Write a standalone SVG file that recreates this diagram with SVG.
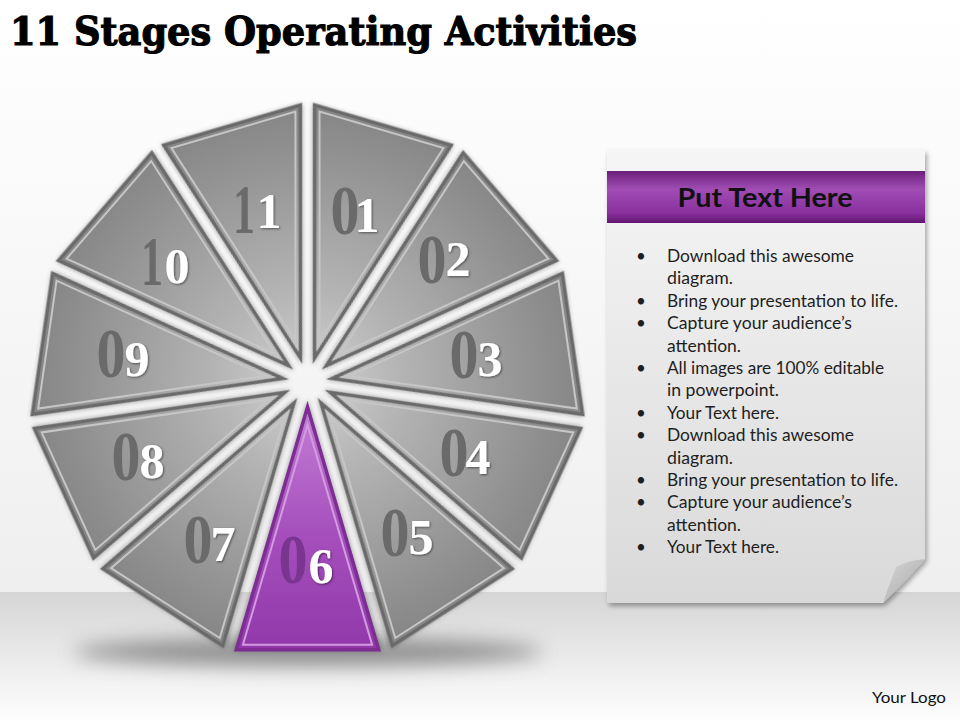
<svg xmlns="http://www.w3.org/2000/svg" width="960" height="720" viewBox="0 0 960 720">
<defs>
<linearGradient id="bgTop" x1="0" y1="0" x2="0" y2="1">
<stop offset="0" stop-color="#ffffff"/><stop offset="1" stop-color="#efefef"/>
</linearGradient>
<linearGradient id="bgFloor" x1="0" y1="0" x2="0" y2="1">
<stop offset="0" stop-color="#d5d5d5"/><stop offset="0.7" stop-color="#f2f2f2"/><stop offset="1" stop-color="#fdfdfd"/>
</linearGradient>
<radialGradient id="gGrey" gradientUnits="userSpaceOnUse" cx="0" cy="0" r="275">
<stop offset="0" stop-color="#d2d2d2"/><stop offset="0.35" stop-color="#b3b3b3"/><stop offset="1" stop-color="#858585"/>
</radialGradient>
<linearGradient id="gPurple" gradientUnits="userSpaceOnUse" x1="0" y1="-30" x2="0" y2="-268">
<stop offset="0" stop-color="#c27ed4"/><stop offset="0.5" stop-color="#a650bd"/><stop offset="1" stop-color="#9138aa"/>
</linearGradient>
<linearGradient id="gPaper" x1="0" y1="0" x2="0" y2="1">
<stop offset="0" stop-color="#f6f6f6"/><stop offset="1" stop-color="#d9d9d9"/>
</linearGradient>
<linearGradient id="gHead" x1="0" y1="0" x2="0" y2="1">
<stop offset="0" stop-color="#6a2079"/><stop offset="0.35" stop-color="#a04db4"/><stop offset="0.8" stop-color="#8a309f"/><stop offset="1" stop-color="#5f1670"/>
</linearGradient>
<linearGradient id="gFlap" x1="0" y1="0" x2="1" y2="1">
<stop offset="0" stop-color="#d8d8d8"/><stop offset="1" stop-color="#a5a5a5"/>
</linearGradient>
<filter id="sh" x="-20%" y="-20%" width="140%" height="140%">
<feDropShadow dx="0" dy="1" stdDeviation="2.5" flood-color="#000" flood-opacity="0.35"/>
</filter>
<filter id="paperSh" x="-10%" y="-10%" width="120%" height="120%">
<feDropShadow dx="2" dy="3" stdDeviation="2.5" flood-color="#000" flood-opacity="0.35"/>
</filter>
<filter id="blur" x="-30%" y="-200%" width="160%" height="500%">
<feGaussianBlur stdDeviation="10"/>
</filter>
<filter id="txtSh" x="-30%" y="-30%" width="160%" height="160%">
<feDropShadow dx="1" dy="1" stdDeviation="0.8" flood-color="#000" flood-opacity="0.5"/>
</filter>
<polygon id="triO" points="0,-25 71.25,-267.8 -71.25,-267.8"/>
<polygon id="triI" points="0,-42.75 64.6,-262.8 -64.6,-262.8"/>
</defs>
<style>
.tri{fill:url(#gGrey);stroke:#6a6a6a;stroke-width:3.5;filter:url(#sh)}
.triP{fill:url(#gPurple);stroke:#7c2e92;stroke-width:3.5;filter:url(#sh)}
.inn{fill:none;stroke:#c6c6c6;stroke-width:2}
.innP{fill:none;stroke:#d49be2;stroke-width:2}
.gd{font-family:"Liberation Serif",serif;font-weight:bold;font-size:70px;fill:#6a6a6a;text-anchor:middle}
.gdP{font-family:"Liberation Serif",serif;font-weight:bold;font-size:70px;fill:#7a3590;text-anchor:middle}
.wd{font-family:"Liberation Serif",serif;font-weight:bold;font-size:50px;fill:#ffffff;text-anchor:middle;filter:url(#txtSh)}
.bt{font-family:Lato,"Liberation Sans",sans-serif;font-size:17px;fill:#1e1e1e}
</style>

<rect x="0" y="0" width="960" height="592" fill="url(#bgTop)"/>
<rect x="0" y="592" width="960" height="128" fill="url(#bgFloor)"/>

<text x="10" y="45" font-family="DejaVu Serif" font-weight="bold" font-size="40" fill="#000" stroke="#000" stroke-width="1.2" textLength="627" lengthAdjust="spacingAndGlyphs">11 Stages Operating Activities</text>

<ellipse cx="308" cy="652" rx="235" ry="14" fill="#6e6e6e" opacity="0.75" filter="url(#blur)"/>

<g id="wheel">
<g id="stage-01">
<g transform="translate(307.5,382) rotate(16.3636)"><use href="#triO" class="tri"/><use href="#triI" class="inn"/></g>
<text class="gd" x="345" y="234" textLength="29" lengthAdjust="spacingAndGlyphs">0</text>
<text class="wd" x="367" y="232">1</text>
</g>
<g id="stage-02">
<g transform="translate(307.5,382) rotate(49.0909)"><use href="#triO" class="tri"/><use href="#triI" class="inn"/></g>
<text class="gd" x="432" y="283" textLength="29" lengthAdjust="spacingAndGlyphs">0</text>
<text class="wd" x="458" y="276">2</text>
</g>
<g id="stage-03">
<g transform="translate(307.5,382) rotate(81.8182)"><use href="#triO" class="tri"/><use href="#triI" class="inn"/></g>
<text class="gd" x="464" y="378" textLength="29" lengthAdjust="spacingAndGlyphs">0</text>
<text class="wd" x="490" y="376">3</text>
</g>
<g id="stage-04">
<g transform="translate(307.5,382) rotate(114.5455)"><use href="#triO" class="tri"/><use href="#triI" class="inn"/></g>
<text class="gd" x="454" y="476" textLength="29" lengthAdjust="spacingAndGlyphs">0</text>
<text class="wd" x="478" y="474">4</text>
</g>
<g id="stage-05">
<g transform="translate(307.5,382) rotate(147.2727)"><use href="#triO" class="tri"/><use href="#triI" class="inn"/></g>
<text class="gd" x="395" y="556" textLength="29" lengthAdjust="spacingAndGlyphs">0</text>
<text class="wd" x="421" y="554">5</text>
</g>
<g id="stage-06">
<g transform="translate(307.5,382) rotate(180)"><use href="#triO" class="triP"/><use href="#triI" class="innP"/></g>
<text class="gdP" x="293" y="583" textLength="29" lengthAdjust="spacingAndGlyphs">0</text>
<text class="wd" x="321" y="583">6</text>
</g>
<g id="stage-07">
<g transform="translate(307.5,382) rotate(212.7273)"><use href="#triO" class="tri"/><use href="#triI" class="inn"/></g>
<text class="gd" x="198" y="563" textLength="29" lengthAdjust="spacingAndGlyphs">0</text>
<text class="wd" x="223" y="561">7</text>
</g>
<g id="stage-08">
<g transform="translate(307.5,382) rotate(245.4545)"><use href="#triO" class="tri"/><use href="#triI" class="inn"/></g>
<text class="gd" x="126" y="480" textLength="29" lengthAdjust="spacingAndGlyphs">0</text>
<text class="wd" x="152" y="478">8</text>
</g>
<g id="stage-09">
<g transform="translate(307.5,382) rotate(278.1818)"><use href="#triO" class="tri"/><use href="#triI" class="inn"/></g>
<text class="gd" x="111" y="377" textLength="29" lengthAdjust="spacingAndGlyphs">0</text>
<text class="wd" x="137" y="376">9</text>
</g>
<g id="stage-10">
<g transform="translate(307.5,382) rotate(310.9091)"><use href="#triO" class="tri"/><use href="#triI" class="inn"/></g>
<text class="gd" x="152" y="285" textLength="22" lengthAdjust="spacingAndGlyphs">1</text>
<text class="wd" x="177" y="283">0</text>
</g>
<g id="stage-11">
<g transform="translate(307.5,382) rotate(343.6364)"><use href="#triO" class="tri"/><use href="#triI" class="inn"/></g>
<text class="gd" x="244" y="233" textLength="22" lengthAdjust="spacingAndGlyphs">1</text>
<text class="wd" x="269" y="228">1</text>
</g>
</g>

<g id="connectors"></g>

<g id="text-panel">
<path d="M607,150 H925 V559 Q905,582 883,603 H607 Z" fill="url(#gPaper)" filter="url(#paperSh)"/>
<path d="M925,559 Q906,561 896,567 Q889,585 883,603 Q906,582 925,559 Z" fill="url(#gFlap)"/>
<rect x="607" y="171" width="318" height="52" fill="url(#gHead)"/>
<text x="765" y="207" font-family="Lato,'Liberation Sans',sans-serif" font-weight="bold" font-size="26" fill="#111" text-anchor="middle" textLength="175" lengthAdjust="spacingAndGlyphs">Put Text Here</text>
<g class="bt">
<text x="636" y="262">•</text><text x="667" y="262" textLength="187" lengthAdjust="spacingAndGlyphs">Download this awesome</text>
<text x="667" y="284.4" textLength="66" lengthAdjust="spacingAndGlyphs">diagram.</text>
<text x="636" y="306.8">•</text><text x="667" y="306.8" textLength="231" lengthAdjust="spacingAndGlyphs">Bring your presentation to life.</text>
<text x="636" y="329.2">•</text><text x="667" y="329.2" textLength="185" lengthAdjust="spacingAndGlyphs">Capture your audience’s</text>
<text x="667" y="351.6" textLength="74" lengthAdjust="spacingAndGlyphs">attention.</text>
<text x="636" y="374">•</text><text x="667" y="374" textLength="217" lengthAdjust="spacingAndGlyphs">All images are 100% editable</text>
<text x="667" y="396.4" textLength="112" lengthAdjust="spacingAndGlyphs">in powerpoint.</text>
<text x="636" y="418.8">•</text><text x="667" y="418.8" textLength="112" lengthAdjust="spacingAndGlyphs">Your Text here.</text>
<text x="636" y="441.2">•</text><text x="667" y="441.2" textLength="187" lengthAdjust="spacingAndGlyphs">Download this awesome</text>
<text x="667" y="463.6" textLength="66" lengthAdjust="spacingAndGlyphs">diagram.</text>
<text x="636" y="486">•</text><text x="667" y="486" textLength="231" lengthAdjust="spacingAndGlyphs">Bring your presentation to life.</text>
<text x="636" y="508.4">•</text><text x="667" y="508.4" textLength="185" lengthAdjust="spacingAndGlyphs">Capture your audience’s</text>
<text x="667" y="530.8" textLength="74" lengthAdjust="spacingAndGlyphs">attention.</text>
<text x="636" y="553.2">•</text><text x="667" y="553.2" textLength="112" lengthAdjust="spacingAndGlyphs">Your Text here.</text>
</g>
</g>

<text x="872" y="703" font-family="Lato,'Liberation Sans',sans-serif" font-size="16" fill="#111" textLength="74" lengthAdjust="spacingAndGlyphs">Your Logo</text>
</svg>
